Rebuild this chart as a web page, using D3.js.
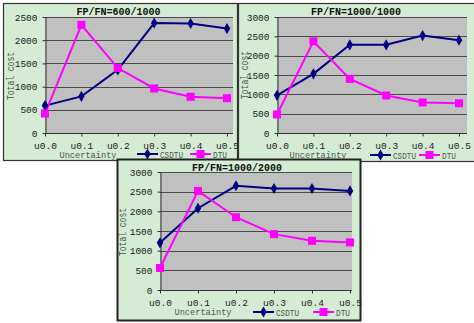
<!DOCTYPE html>
<html>
<head>
<meta charset="utf-8">
<script src="https://cdn.jsdelivr.net/npm/d3@7"></script>
<style>
html,body{margin:0;padding:0;background:#fff;}
svg{display:block;}
text{font-family:"Liberation Mono","DejaVu Sans Mono",monospace;}
</style>
</head>
<body>
<svg id="chart" width="474" height="323"></svg>
<script>
// ---- data ----
const categories = ["u0.0", "u0.1", "u0.2", "u0.3", "u0.4", "u0.5"];
const seriesNames = ["CSDTU", "DTU"];
const titles = ["FP/FN=600/1000", "FP/FN=1000/1000", "FP/FN=1000/2000"];
const csdtu600 = [590, 790, 1360, 2370, 2360, 2250];
const dtu600 = [420, 2330, 1400, 960, 780, 750];
const csdtu1000 = [975, 1530, 2280, 2280, 2520, 2400];
const dtu1000 = [480, 2370, 1400, 970, 790, 770];
const csdtu2000 = [1200, 2080, 2650, 2580, 2580, 2520];
const dtu2000 = [560, 2520, 1850, 1420, 1250, 1210];
const yTicks2500 = [0, 500, 1000, 1500, 2000, 2500];
const yTicks3000 = [0, 500, 1000, 1500, 2000, 2500, 3000];
const yLabel = "Total cost";
const xLabel = "Uncertainty";

// ---- layout ----
const colors = {CSDTU: "#000080", DTU: "#ff00ff"};
const panels = [
  {title: titles[0], cs: csdtu600, dt: dtu600, ticks: yTicks2500,
   box: [3, 3, 235, 158], plot: [45, 17, 188, 116], lastX: 227,
   ylab: [11, 76], xlab: [88, 158], leg: [137, 190, 154]},
  {title: titles[1], cs: csdtu1000, dt: dtu1000, ticks: yTicks3000,
   box: [238, 3, 240, 159], plot: [277, 17, 190, 116], lastX: 459,
   ylab: [245, 75], xlab: [318, 158], leg: [370, 419, 155]},
  {title: titles[2], cs: csdtu2000, dt: dtu2000, ticks: yTicks3000,
   box: [117, 159, 244, 162], plot: [160, 172, 192, 118], lastX: 350,
   ylab: [123, 232], xlab: [203, 315], leg: [253, 313, 312]}
];

const svg = d3.select("#chart");
const txtCol = "#222";
const labCol = "#4a5a50";

panels.forEach((p, i) => {
  const g = svg.append("g");
  const [bx, by, bw, bh] = p.box;
  g.append("rect").attr("x", bx + 0.5).attr("y", by + 0.5)
    .attr("width", bw - 1).attr("height", bh - 1)
    .attr("fill", "#d3ecd3")
    .attr("stroke", i === 2 ? "#222" : "#333")
    .attr("stroke-width", i === 2 ? 2 : 1.2);

  const [px, py, pw, ph] = p.plot;
  g.append("rect").attr("x", px).attr("y", py).attr("width", pw).attr("height", ph)
    .attr("fill", "#c0c0c0");

  const x = d3.scalePoint().domain(categories).range([px, p.lastX]);
  const y = d3.scaleLinear().domain([0, d3.max(p.ticks)]).range([py + ph, py]);

  // gridlines
  g.selectAll(".grid").data(p.ticks.slice(1)).enter().append("line")
    .attr("x1", px).attr("x2", px + pw)
    .attr("y1", d => Math.round(y(d)) + 0.5).attr("y2", d => Math.round(y(d)) + 0.5)
    .attr("stroke", "#4a4a4a").attr("stroke-width", 1);

  // y axis
  const ya = g.append("g").attr("transform", `translate(${px + 0.5},0)`)
    .call(d3.axisLeft(y).tickValues(p.ticks).tickSize(3).tickSizeOuter(0).tickFormat(d3.format("d")));
  ya.select(".domain").attr("stroke", "#333");
  ya.selectAll(".tick line").attr("stroke", "#333");
  ya.selectAll("text").attr("font-size", 9.5).attr("fill", txtCol).attr("x", -8)
    .attr("font-family", "'Liberation Mono', monospace");

  // x axis
  const xa = g.append("g").attr("transform", `translate(0,${py + ph + 0.5})`)
    .call(d3.axisBottom(x).tickSize(3).tickSizeOuter(0));
  xa.select(".domain").attr("stroke", "#333").attr("d", `M${px},0H${px + pw}`);
  xa.selectAll(".tick line").attr("stroke", "#333");
  xa.selectAll("text").attr("font-size", 9.5).attr("fill", txtCol).attr("dy", null)
    .attr("y", 15).attr("font-family", "'Liberation Mono', monospace");

  // title
  g.append("text").attr("x", bx + bw / 2 - 2).attr("y", by + 12)
    .attr("text-anchor", "middle").attr("font-size", 10).attr("font-weight", "bold")
    .attr("fill", "#111").text(p.title);

  // axis labels
  g.append("text").attr("transform", `translate(${p.ylab[0] + 3},${p.ylab[1]}) rotate(-90)`)
    .attr("text-anchor", "middle").attr("font-size", 10).attr("fill", labCol)
    .attr("textLength", 48).attr("lengthAdjust", "spacingAndGlyphs")
    .attr("font-family", "'Liberation Serif', serif").text(yLabel);
  g.append("text").attr("x", p.xlab[0]).attr("y", p.xlab[1])
    .attr("text-anchor", "middle").attr("font-size", 9).attr("fill", labCol)
    .attr("textLength", 57).attr("lengthAdjust", "spacingAndGlyphs")
    .text(xLabel);

  // series
  const line = d3.line().x((d, j) => x(categories[j])).y(d => y(d));
  const series = [{name: seriesNames[0], v: p.cs}, {name: seriesNames[1], v: p.dt}];
  series.forEach(s => {
    g.append("path").datum(s.v).attr("d", line).attr("fill", "none")
      .attr("stroke", colors[s.name]).attr("stroke-width", 2);
  });
  // markers
  const diamond = d3.symbol().type(d3.symbolDiamond).size(36);
  g.selectAll(".cs").data(p.cs).enter().append("path")
    .attr("d", diamond)
    .attr("transform", (d, j) => `translate(${x(categories[j])},${y(d)})`)
    .attr("fill", colors.CSDTU);
  g.selectAll(".dt").data(p.dt).enter().append("rect")
    .attr("x", (d, j) => x(categories[j]) - 4).attr("y", d => y(d) - 4)
    .attr("width", 8).attr("height", 8).attr("fill", colors.DTU);

  // legend
  const [l1, l2, ly] = p.leg;
  [[l1, "CSDTU", 23], [l2, "DTU", 14]].forEach(([lx, name, tl]) => {
    g.append("line").attr("x1", lx).attr("x2", lx + 21).attr("y1", ly).attr("y2", ly)
      .attr("stroke", colors[name]).attr("stroke-width", 2);
    if (name === "CSDTU") {
      g.append("path").attr("d", diamond).attr("transform", `translate(${lx + 10.5},${ly})`)
        .attr("fill", colors[name]);
    } else {
      g.append("rect").attr("x", lx + 6.5).attr("y", ly - 4).attr("width", 8).attr("height", 8)
        .attr("fill", colors[name]);
    }
    g.append("text").attr("x", lx + 23).attr("y", ly + 4).attr("font-size", 9)
      .attr("textLength", tl).attr("lengthAdjust", "spacingAndGlyphs")
      .attr("fill", labCol).attr("font-family", "'Liberation Serif', serif").text(name);
  });
});
</script>
</body>
</html>
